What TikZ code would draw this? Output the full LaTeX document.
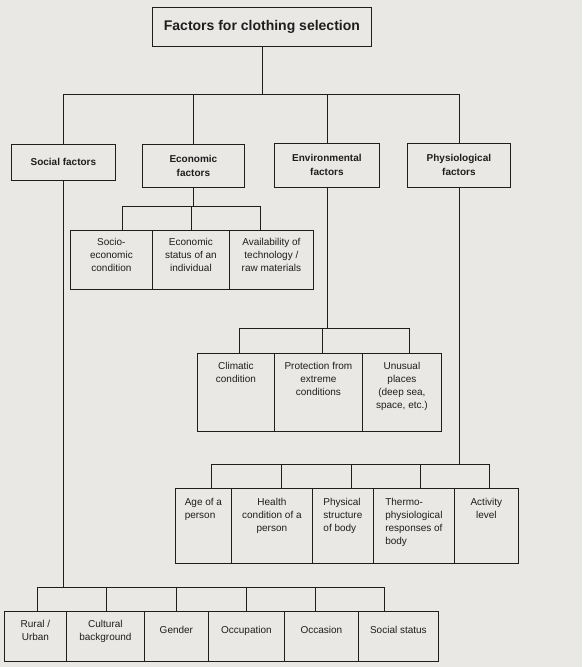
\documentclass[tikz,border=0pt]{standalone}
\usepackage{fontspec}
\setmainfont{Liberation Sans}
\usetikzlibrary{positioning,calc}
\definecolor{paper}{RGB}{233,232,229}
\definecolor{ink}{RGB}{30,30,30}
\newcommand{\toplines}[2][c]{\begin{tabular}[t]{@{}#1@{}}#2\end{tabular}}
\newcommand{\midlines}[1]{\begin{tabular}[c]{@{}c@{}}#1\end{tabular}}

\begin{document}
\begin{tikzpicture}[
    x=1pt, y=-1pt,
    line width=0.8pt, color=ink,
    box/.style={rectangle, draw, anchor=north west, inner sep=0pt, align=center,
                font=\fontsize{10}{13}\selectfont},
    head/.style={box, font=\fontsize{10}{14}\selectfont\bfseries},
    cell/.style={rectangle, draw, anchor=north west, inner sep=0pt,
                 font=\fontsize{10}{13}\selectfont},
    ecorow/.style={cell, text height=15pt, text depth=44pt},
    envrow/.style={cell, text height=16pt, text depth=62pt},
    phyrow/.style={cell, text height=17pt, text depth=58pt},
    socrow/.style={cell, text height=22pt, text depth=28pt}
  ]
  \useasboundingbox (0,0) rectangle (582,667);
  \fill[paper] (0,0) rectangle (582,667);

  \node[box, font=\fontsize{14}{17}\selectfont\bfseries,
        minimum width=219, minimum height=39] (title) at (152,7) {Factors for clothing selection};

  \node[head, minimum width=104, minimum height=36] (soc) at (11,144) {Social factors};
  \node[head, minimum width=102, minimum height=43] (eco) at (142,144) {Economic\\factors};
  \node[head, minimum width=105, minimum height=44] (env) at (274,143) {Environmental\\factors};
  \node[head, minimum width=103, minimum height=44] (phy) at (407,143) {Physiological\\factors};

  \node[ecorow, minimum width=82] (sec) at (70,230)  {\toplines{Socio-\\economic\\condition}};
  \node[ecorow, minimum width=77] (est) at (152,230) {\toplines{Economic\\status of an\\individual}};
  \node[ecorow, minimum width=84] (ava) at (229,230) {\toplines{Availability of\\technology /\\raw materials}};

  \node[envrow, minimum width=77] (cli) at (197,353) {\toplines{Climatic\\condition}};
  \node[envrow, minimum width=88] (pro) at (274,353) {\toplines{Protection from\\extreme\\conditions}};
  \node[envrow, minimum width=79] (unu) at (362,353) {\toplines{Unusual\\places\\(deep sea,\\space, etc.)}};

  \node[phyrow, minimum width=56] (age) at (175,488) {\toplines[l]{Age of a\\person}};
  \node[phyrow, minimum width=81] (hea) at (231,488) {\toplines{Health\\condition of a\\person}};
  \node[phyrow, minimum width=61] (phs) at (312,488) {\toplines[l]{Physical\\structure\\of body}};
  \node[phyrow, minimum width=81] (the) at (373,488) {\toplines[l]{Thermo-\\physiological\\responses of\\body}};
  \node[phyrow, minimum width=64] (act) at (454,488) {\toplines{Activity\\level}};

  \node[socrow, minimum width=62] (rur) at (4,611)   {\midlines{Rural /\\Urban}};
  \node[socrow, minimum width=78] (cul) at (66,611)  {\midlines{Cultural\\background}};
  \node[socrow, minimum width=64] (gen) at (144,611) {\midlines{Gender}};
  \node[socrow, minimum width=76] (occ) at (208,611) {\midlines{Occupation}};
  \node[socrow, minimum width=74] (ocn) at (284,611) {\midlines{Occasion}};
  \node[socrow, minimum width=80] (sst) at (358,611) {\midlines{Social status}};

  % main branches
  \coordinate (top) at ($(title.south)+(0,48)$);
  \draw (title.south) -- (top);
  \foreach \n in {soc,eco,env,phy}
    \draw (top) -| (\n.north);

  % sub branches
  \foreach \x/\n in {122/sec,191/est,260/ava}{
    \coordinate (t-\n) at (\x,206);
    \draw (t-\n) -- (t-\n |- \n.north);
  }
  \foreach \x/\n in {239/cli,322/pro,409/unu}{
    \coordinate (t-\n) at (\x,328);
    \draw (t-\n) -- (t-\n |- \n.north);
  }
  \foreach \x/\n in {211/age,281/hea,351/phs,420/the,489/act}{
    \coordinate (t-\n) at (\x,464);
    \draw (t-\n) -- (t-\n |- \n.north);
  }
  \foreach \x/\n in {37/rur,106/cul,176/gen,246/occ,315/ocn,384/sst}{
    \coordinate (t-\n) at (\x,587);
    \draw (t-\n) -- (t-\n |- \n.north);
  }
  \draw (t-sec) -- (t-ava);
  \draw (t-cli) -- (t-unu);
  \draw (t-age) -- (t-act);
  \draw (t-rur) -- (t-sst);

  \draw (eco.south) -- (eco.south |- t-est);
  \draw (env.south) -- (env.south |- t-pro);
  \draw (phy.south) -- (phy.south |- t-the);
  \draw (soc.south) -- (soc.south |- t-rur);
\end{tikzpicture}
\end{document}
